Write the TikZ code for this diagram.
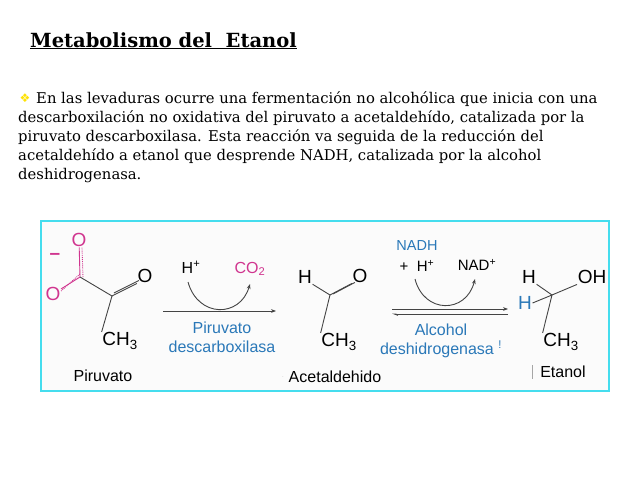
\documentclass[tikz,border=0pt]{standalone}
\usepackage{fontspec}
\setmainfont{DejaVu Serif}
\newfontfamily\chem{Liberation Sans}
\newfontfamily\symf{DejaVu Sans}
\usetikzlibrary{arrows.meta}
\definecolor{mag}{HTML}{D0358F}
\definecolor{enz}{HTML}{2A78B8}
\definecolor{frame}{HTML}{45DDEE}
\definecolor{bond}{HTML}{444444}
\newcommand{\sbs}[1]{\textsubscript{#1}}
\newcommand{\sps}[1]{\textsuperscript{#1}}
\tikzset{
 body/.style={anchor=base west,inner sep=0pt,font=\fontsize{14.8}{17}\selectfont},
 at1/.style={inner sep=0.5pt,font=\chem\fontsize{19}{21}\selectfont},
 enzt/.style={inner sep=0pt,font=\chem\fontsize{16}{18}\selectfont,text=enz,align=center},
 lab/.style={inner sep=0pt,font=\chem\fontsize{16}{18}\selectfont},
 bnd/.style={draw=bond,line width=0.9pt},
 rxn/.style={draw=bond,line width=0.9pt},
}
\begin{document}
\begin{tikzpicture}[x=1pt,y=-1pt]
\useasboundingbox (0,0) rectangle (638,479);
\fill[white] (0,0) rectangle (638,479);
\node[anchor=base west,inner sep=0pt,font=\bfseries\fontsize{19.5}{22}\selectfont] (title) at (30,47) {\underline{Metabolismo del\ \ Etanol}};
\node[inner sep=0pt,text=yellow!85!orange,font=\symf\fontsize{12}{12}\selectfont] (bul) at (25,98) {❖};
\node[body] (l1) at (36,103) {En las levaduras ocurre una fermentación no alcohólica que inicia con una};
\node[body] (l2) at (18,122) {descarboxilación no oxidativa del piruvato a acetaldehído, catalizada por la};
\node[body] (l3) at (18,141) {piruvato descarboxilasa. Esta reacción va seguida de la reducción del};
\node[body] (l4) at (18,160) {acetaldehído a etanol que desprende NADH, catalizada por la alcohol};
\node[body] (l5) at (18,179) {deshidrogenasa.};
% frame
\draw[frame,line width=2.5pt,fill=gray!3] (41,221) rectangle (609,391);
% pyruvate
\coordinate (c1) at (80,277);
\coordinate (c2) at (112,296);
\node[at1,text=mag] (o1) at (79,240) {O};
\node[at1,text=mag] (o2) at (53,294) {O};
\node[at1,text=mag] (neg) at (55,256) {\textbf{–}};
\node[at1] (o3) at (145,276) {O};
\node[at1] (ch3a) at (120,341) {CH\sbs{3}};
\draw[bnd,mag] (c1) -- (o1);
\draw[bnd,mag,densely dotted] ([xshift=3pt]c1) -- ([xshift=3pt]o1.south);
\draw[bnd,mag] (c1) -- (o2);
\draw[bnd,mag,densely dotted] ([yshift=3pt]c1) -- ([yshift=3pt]o2.east);
\draw[bnd] (c1) -- (c2) -- (ch3a.north west);
\draw[bnd] (c2) -- (o3.south west);
\draw[bnd] ([xshift=2pt,yshift=3pt]c2) -- ([xshift=2pt,yshift=3pt]o3.south west);
\node[lab] (pir) at (103,376) {Piruvato};
% arrow 1
\coordinate (a1s) at (163,311);
\coordinate (a1e) at (276,311);
\draw[rxn,-{Stealth[length=5pt]}] (a1s) -- (a1e);
\node[at1,font=\chem\fontsize{16}{18}\selectfont] (hp1) at (191,267) {H\sps{+}};
\node[at1,text=mag,font=\chem\fontsize{16}{18}\selectfont] (co2) at (250,269) {CO\sbs{2}};
\draw[rxn,-{Stealth[length=5pt]}] (188,282) .. controls (198,318) and (240,318) .. (250,284);
\node[enzt] (pd) at (222,337) {Piruvato\\[1pt]descarboxilasa};
% acetaldehyde
\coordinate (c3) at (330,295);
\node[at1] (h1) at (305,277) {H};
\node[at1] (o4) at (360,276) {O};
\node[at1] (ch3b) at (339,342) {CH\sbs{3}};
\draw[bnd] (h1.south east) -- (c3) -- (ch3b.north west);
\draw[bnd] (c3) -- (o4.south west);
\draw[bnd] ([xshift=3pt,yshift=1pt]c3) -- ([xshift=3pt,yshift=1pt]o4.south west);
\node[inner sep=0pt,font=\tiny,text=gray] (dot) at (283,377) {$\cdot$};
\node[lab] (acet) at (335,377) {Acetaldehido};
% arrow 2
\draw[rxn,-{Stealth[length=5pt]}] (392,309) -- (508,309);
\draw[rxn,-{Stealth[length=5pt,left]}] (508,314) -- (392,314);
\node[at1,text=enz,font=\chem\fontsize{14.5}{16}\selectfont] (nadh) at (417,246) {NADH};
\node[at1,font=\chem\fontsize{15}{16}\selectfont] (hp2) at (417,266) {+\ \ H\sps{+}};
\node[at1,font=\chem\fontsize{15}{16}\selectfont] (nad) at (477,265) {NAD\sps{+}};
\draw[rxn,-{Stealth[length=5pt]}] (415,279) .. controls (424,314) and (466,314) .. (475,279);
\node[enzt] (adh) at (441,341) {Alcohol\\[1pt]deshidrogenasa \textsuperscript{!}};
% ethanol
\coordinate (c4) at (552,295);
\node[at1] (h2) at (529,277) {H};
\node[at1] (oh) at (592,277) {OH};
\node[at1,text=enz] (h3) at (525,303) {H};
\node[at1] (ch3c) at (561,342) {CH\sbs{3}};
\draw[bnd] (h2.south east) -- (c4) -- (oh.south west);
\draw[bnd] (h3.east) -- (c4) -- (ch3c.north west);
\node[lab] (et) at (563,372) {Etanol};
\draw[gray!70,line width=0.6pt] (532,365) -- (532,379);
\end{tikzpicture}
\end{document}
